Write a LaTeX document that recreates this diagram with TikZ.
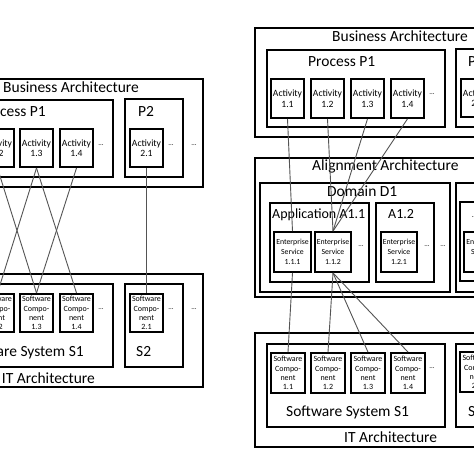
\documentclass[tikz,border=0pt]{standalone}
\usepackage{fontspec}
\setmainfont{Carlito}
\definecolor{linkgray}{gray}{0.33}

\begin{document}
\begin{tikzpicture}[x=1pt, y=-1pt,
    frame/.style={draw, line width=1.8pt},
    title/.style={inner sep=0pt, font=\fontsize{15.5}{18}\selectfont},
    subtitle/.style={title, font=\fontsize{14}{17}\selectfont},
    dots/.style={inner sep=0pt, font=\fontsize{7}{8}\selectfont},
    unit/.style={draw, line width=2.3pt, inner sep=0pt, align=center},
    activity/.style={unit, minimum width=32.8pt, minimum height=38.5pt, font=\fontsize{9.6}{10.5}\selectfont},
    component/.style={unit, minimum width=33.5pt, minimum height=39.5pt, font=\fontsize{8}{9.4}\selectfont},
    service/.style={unit, minimum width=36.5pt, minimum height=39.5pt, font=\fontsize{7.8}{9.8}\selectfont},
    link/.style={draw=linkgray, line width=0.9pt}]

    \fill[white] (0,0) rectangle (474,474);
    \useasboundingbox (0,0) rectangle (474,474);
    \clip (0,0) rectangle (474,474);

    % ---- left picture (cut at the left edge) ----
    % Business Architecture
    \draw[frame] (-60,79) rectangle (203,187);
    \draw[frame] (-60,100) rectangle (113,177);
    \draw[frame] (125,99) rectangle (183,177);
    \node[title, anchor=base west] at (3,92) {Business Architecture};
    \node[title, anchor=base east] at (46,116) {Process P1};
    \node[title, anchor=base west] at (138,116) {P2};

    \node[activity, minimum height=37.8pt] (lact12) at (-2.5,148) {Activity\\1.2};
    \node[activity, minimum height=37.8pt] (lact13) at (36.5,148) {Activity\\1.3};
    \node[activity, minimum height=37.8pt] (lact14) at (76.5,148) {Activity\\1.4};
    \node[activity, minimum height=37.8pt] (lact21) at (146.5,148) {Activity\\2.1};
    \node[dots] (ldotsp1) at (101,145) {...};
    \node[dots] (ldotsp2) at (171,145) {...};
    \node[dots] (ldotsba) at (194,145) {...};

    % IT Architecture
    \draw[frame] (-60,274) rectangle (203,387);
    \draw[frame] (-60,284) rectangle (113,367);
    \draw[frame] (125,284) rectangle (183,367);
    \node[title, anchor=base east] at (84,356) {Software System S1};
    \node[title, anchor=base west] at (136,356) {S2};
    \node[title, anchor=base east] at (95,383) {IT Architecture};

    \node[component, minimum width=32.8pt, minimum height=37.8pt] (lsc12) at (-2.5,313) {Software\\Compo-\\nent\\1.2};
    \node[component, minimum width=32.8pt, minimum height=37.8pt] (lsc13) at (36.5,313) {Software\\Compo-\\nent\\1.3};
    \node[component, minimum width=32.8pt, minimum height=37.8pt] (lsc14) at (76.5,313) {Software\\Compo-\\nent\\1.4};
    \node[component, minimum width=32.8pt, minimum height=37.8pt] (lsc21) at (146.5,313) {Software\\Compo-\\nent\\2.1};
    \node[dots] (ldotss1) at (101,309) {...};
    \node[dots] (ldotss2) at (171,309) {...};
    \node[dots] (ldotsit) at (194,309) {...};

    \draw[link] (lact12.south) -- (lsc13.north);
    \draw[link] (lact13.south) -- (lsc12.north);
    \draw[link] (lact13.south) -- (lsc14.north);
    \draw[link] (lact14.south) -- (lsc13.north);
    \draw[link] (lact21.south) -- (lsc21.north);

    % ---- right picture (cut at the right edge) ----
    % Business Architecture
    \draw[frame] (255,28) rectangle (540,137);
    \draw[frame] (267,50) rectangle (445,127);
    \draw[frame] (456,49) rectangle (540,127);
    \node[title, anchor=base west] at (332,41) {Business Architecture};
    \node[title, anchor=base west] at (308,66) {Process P1};
    \node[title, anchor=base west] at (468,66) {P2};

    \node[activity] (act11) at (287.5,98.5) {Activity\\1.1};
    \node[activity] (act12) at (327.5,98.5) {Activity\\1.2};
    \node[activity] (act13) at (367.5,98.5) {Activity\\1.3};
    \node[activity] (act14) at (407.5,98.5) {Activity\\1.4};
    \node[activity] (act21) at (477.5,98) {Activity\\2.1};
    \node[dots] (dotsp1) at (432,94) {...};

    % Alignment Architecture
    \draw[frame] (255,158) rectangle (540,297);
    \draw[frame] (260,183) rectangle (450,292);
    \draw[frame] (270,203) rectangle (369,282);
    \draw[frame] (376,203) rectangle (434,282);
    \draw[frame] (456,183) rectangle (540,292);
    \draw[frame] (460,202) rectangle (540,281);
    \node[title, anchor=base west] at (312,170) {Alignment Architecture};
    \node[title, anchor=base west] at (327,196) {Domain D1};
    \node[subtitle, anchor=base west] at (272,218) {Application A1.1};
    \node[subtitle, anchor=base west] at (388,218) {A1.2};

    \node[service] (es111) at (292.5,252) {Enterprise\\Service\\1.1.1};
    \node[service, minimum width=35.8pt] (es112) at (333,252) {Enterprise\\Service\\1.1.2};
    \node[service] (es121) at (399,252) {Enterprise\\Service\\1.2.1};
    \node[service] (es211) at (482.5,252) {Enterprise\\Service\\2.1.1};
    \node[dots] (dotsa11) at (361,246) {...};
    \node[dots] (dotsa12) at (427,246) {...};
    \node[dots] (dotsd1) at (443,246) {...};
    \node[dots, anchor=west] (dotsd2) at (471.5,217) {...};

    % IT Architecture
    \draw[frame] (255,333) rectangle (540,447);
    \draw[frame] (267,344) rectangle (445,427);
    \draw[frame] (456,344) rectangle (540,427);
    \node[title, anchor=base west] at (286,416) {Software System S1};
    \node[title, anchor=base west] at (468,416) {S2};
    \node[title, anchor=base west] at (344,442) {IT Architecture};

    \node[component] (sc11) at (288,373) {Software\\Compo-\\nent\\1.1};
    \node[component] (sc12) at (328,373) {Software\\Compo-\\nent\\1.2};
    \node[component] (sc13) at (368,373) {Software\\Compo-\\nent\\1.3};
    \node[component] (sc14) at (408,373) {Software\\Compo-\\nent\\1.4};
    \node[component] (sc21) at (477,372) {Software\\Compo-\\nent\\2.1};
    \node[dots] (dotss1) at (432,368) {...};

    \draw[link] (act11.south) -- (es111.north);
    \draw[link] (act12.south) -- (es112.north);
    \draw[link] (act13.south) -- (es112.north);
    \draw[link] (act14.south) -- (es112.north);
    \draw[link] (es111.south) -- (sc11.north);
    \draw[link] (es112.south) -- (sc12.north);
    \draw[link] (es112.south) -- (sc13.north);
    \draw[link] (es112.south) -- (sc14.north);

\end{tikzpicture}
\end{document}
